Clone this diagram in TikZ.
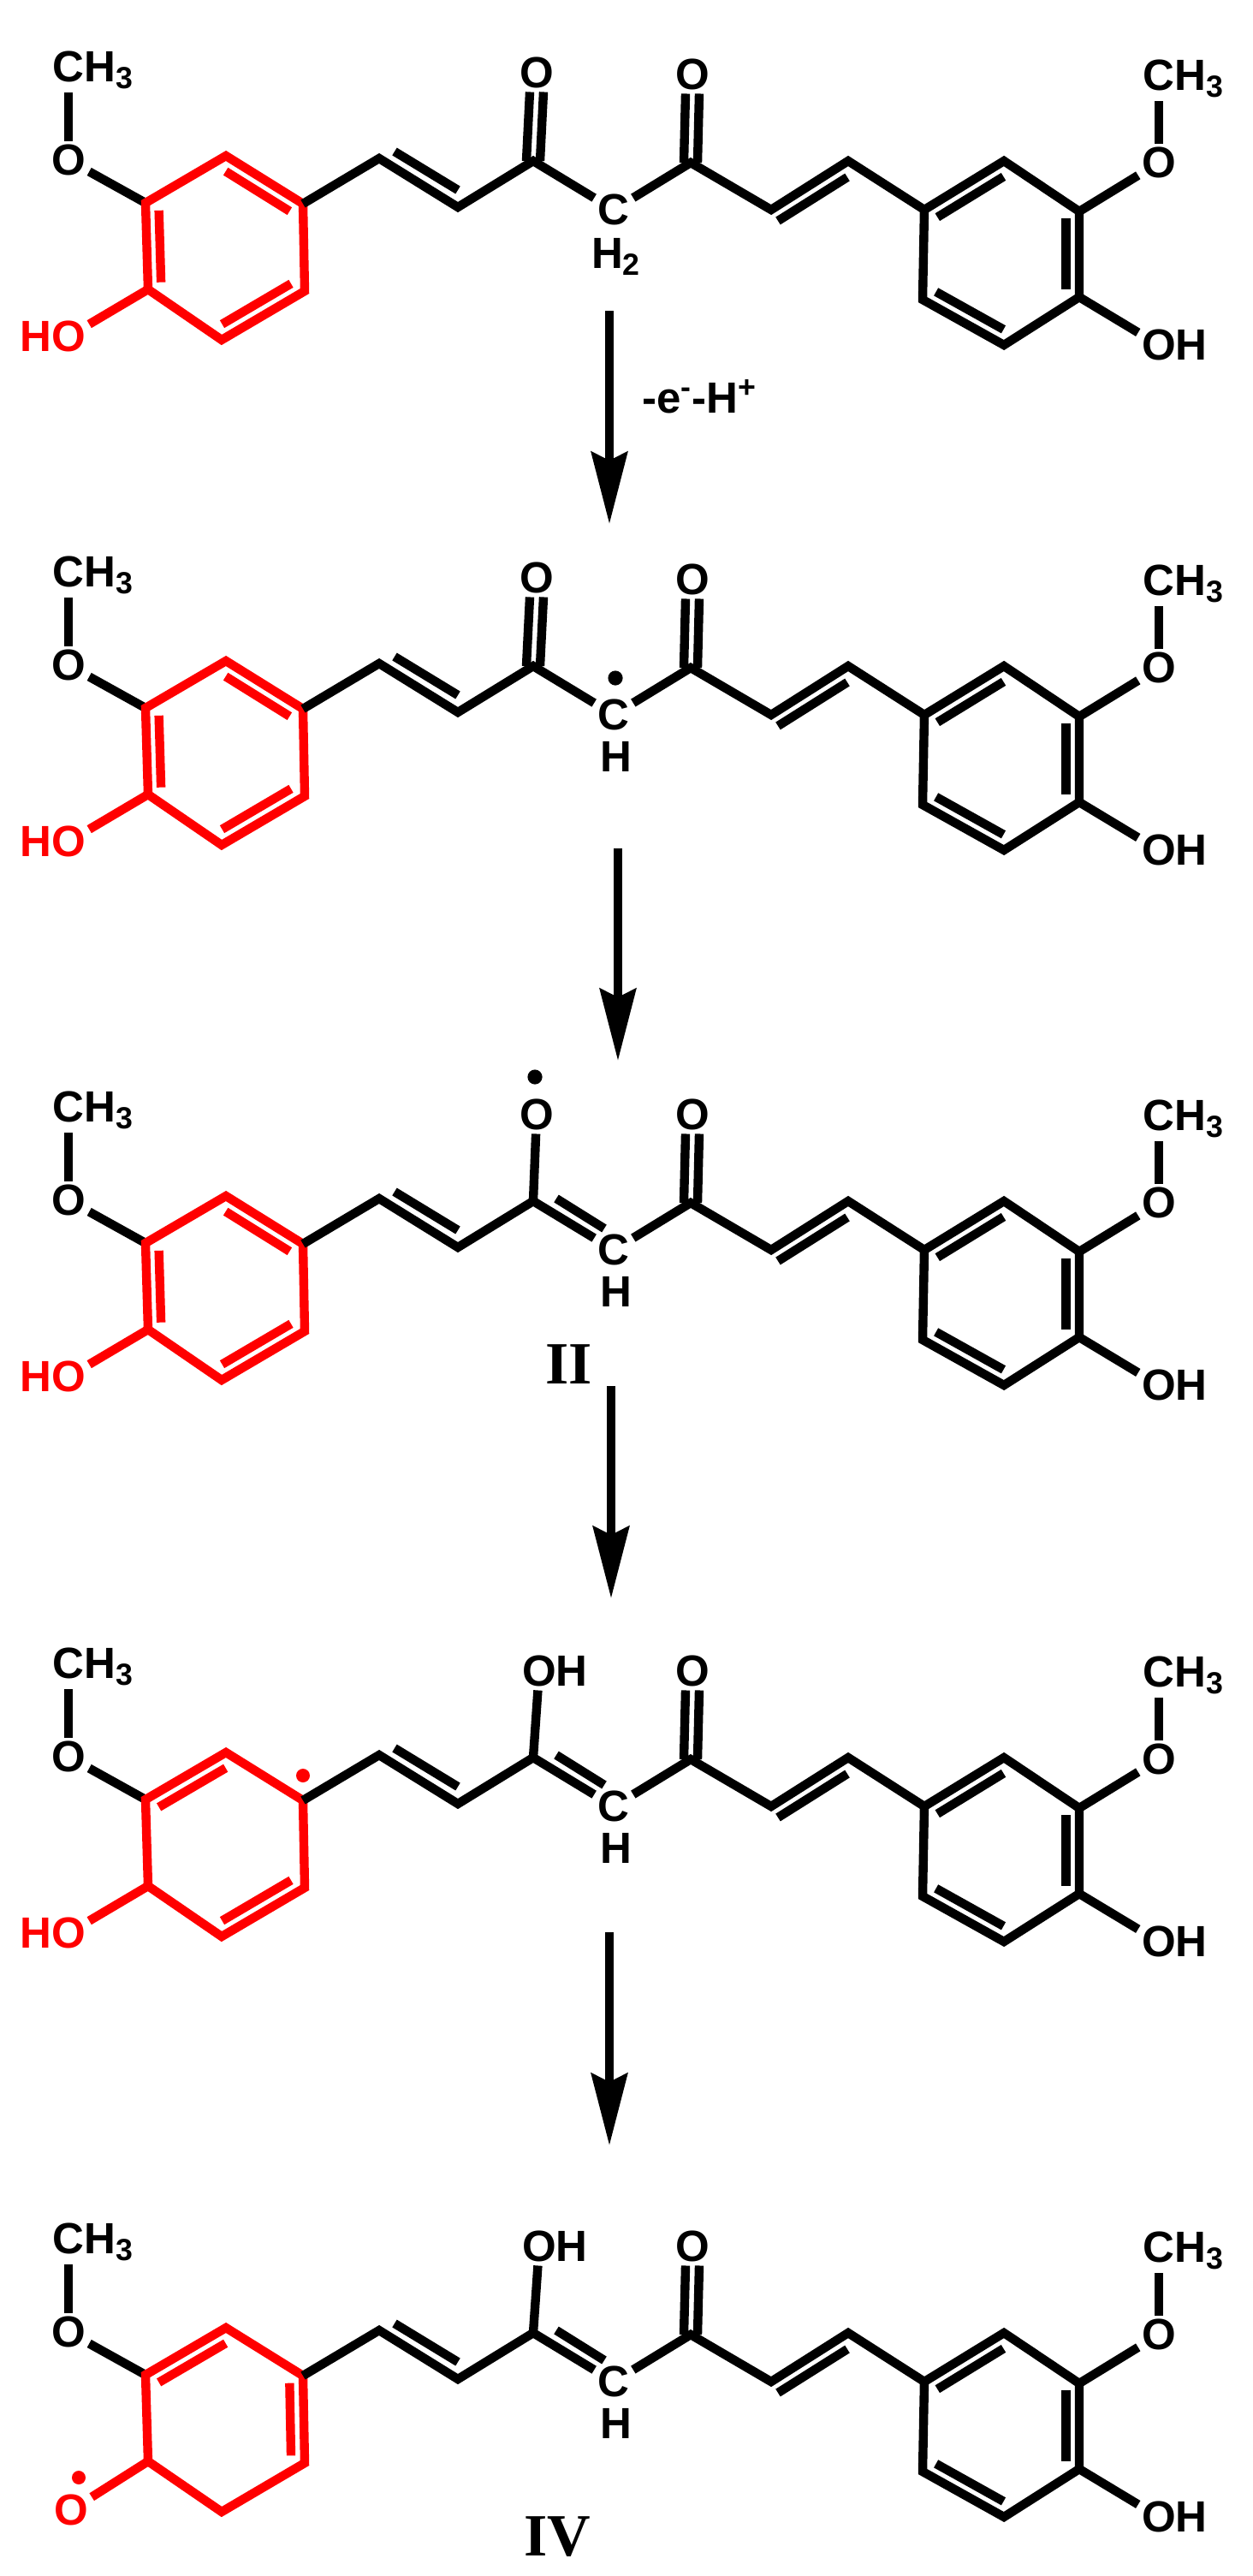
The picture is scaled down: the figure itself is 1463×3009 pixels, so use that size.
\documentclass[tikz,border=0pt]{standalone}
\usepackage{fontspec}
\setmainfont{Liberation Sans}
\newfontfamily\serifb{Liberation Serif}
\usetikzlibrary{calc,arrows.meta}
\definecolor{molred}{RGB}{255,0,0}
\tikzset{
  bond/.style={line width=5.2pt,line join=miter,line cap=butt},
  atom/.style={font=\fontsize{25.5}{28}\selectfont\bfseries,inner sep=2pt},
  rxn/.style={line width=5pt,-{Stealth[length=42pt,width=21pt,inset=5pt]}},
  roman/.style={font=\serifb\bfseries\fontsize{35}{40}\selectfont}
}
\newcommand\ringcoords{%
  \coordinate (L1) at (264,182); \coordinate (L2) at (170,237);
  \coordinate (L3) at (354,238); \coordinate (L4) at (173,338);
  \coordinate (L5) at (356,340); \coordinate (L6) at (259,397);
  \coordinate (LC) at (262,289);
  \coordinate (C1) at (443,185); \coordinate (C2) at (535,242);
  \coordinate (C3) at (623,188); \coordinate (C5) at (807,190);
  \coordinate (C6) at (901,245); \coordinate (C7) at (991,188);
  \coordinate (R1) at (1080,245); \coordinate (R2) at (1173,188);
  \coordinate (R3) at (1261,247); \coordinate (R4) at (1261,347);
  \coordinate (R5) at (1173,403); \coordinate (R6) at (1078,350);
  \coordinate (RC) at (1170,296);
}
\newcommand\common{%
  \ringcoords
  \node[atom] (oL) at (80,187) {O};
  \node[atom] (chL) at (80,82) {C\rlap{H\textsubscript{3}}};
  \draw[bond] (chL) -- (oL);
  \draw[bond] (oL) -- (L2);
  \draw[bond,molred] (L1) -- (L3) -- (L5) -- (L6) -- (L4) -- (L2) -- cycle;
  \node[atom] (c4) at (717,245) {C};
  \draw[bond] (L3) -- (C1) -- (C2) -- (C3) -- (c4);
  \draw[bond] (c4) -- (C5) -- (C6) -- (C7) -- (R1);
  \draw[bond] (461,177) -- (535,222);
  \draw[bond] (909,258) -- (990,207);
  \node[atom] (o5) at (809,87) {O};
  \draw[bond] ([xshift=-4pt]C5) -- ([xshift=-4pt]o5.south);
  \draw[bond] ([xshift=4pt]C5) -- ([xshift=4pt]o5.south);
  \draw[bond] (R1) -- (R2) -- (R3) -- (R4) -- (R5) -- (R6) -- cycle;
  \draw[bond] ($(R1)!0.17!(RC)$) -- ($(R2)!0.17!(RC)$);
  \draw[bond] ($(R3)!0.17!(RC)$) -- ($(R4)!0.17!(RC)$);
  \draw[bond] ($(R5)!0.17!(RC)$) -- ($(R6)!0.17!(RC)$);
  \node[atom] (oR) at (1354,190) {O};
  \node[atom] (chR) at (1354,92) {C\rlap{H\textsubscript{3}}};
  \draw[bond] (chR) -- (oR);
  \draw[bond] (R3) -- (oR);
  \node[atom] (ohR) at (1354,403) {O\rlap{H}};
  \draw[bond] (R4) -- (ohR);
}
\newcommand\lin[4]{\draw[bond,#4] ($(#1)!0.17!(#3)$) -- ($(#2)!0.17!(#3)$);}
\newcommand\hoL{%
  \node[atom,text=molred] (hoL) at (80,393) {\llap{H}O};
  \draw[bond,molred] (L4) -- (hoL);
}
\newcommand\ketoC{%
  \node[atom] (o3) at (627,85) {O};
  \draw[bond] ([xshift=-4pt]C3) -- ([xshift=-4pt]o3.south);
  \draw[bond] ([xshift=4pt]C3) -- ([xshift=4pt]o3.south);
}
\newcommand\enolC{%
  \node[atom] (o3) at (630,87) {O\rlap{H}};
  \draw[bond] (C3) -- (o3);
  \draw[bond] (650,185) -- (706,220);
  \node[atom] (h4) at (720,294) {H};
}
\begin{document}
\begin{tikzpicture}[x=0.5pt,y=-0.5pt]
\useasboundingbox (0,0) rectangle (1463,3009);
% molecule 1
\begin{scope}
  \common
  \lin{L1}{L3}{LC}{molred} \lin{L2}{L4}{LC}{molred} \lin{L5}{L6}{LC}{molred}
  \hoL \ketoC
  \node[atom] (h4) at (720,300) {H\textsubscript{2}};
\end{scope}
% molecule 2
\begin{scope}[yshift=-295pt]
  \common
  \lin{L1}{L3}{LC}{molred} \lin{L2}{L4}{LC}{molred} \lin{L5}{L6}{LC}{molred}
  \hoL \ketoC
  \node[atom] (h4) at (720,294) {H};
  \fill (719,202) circle[radius=4.3pt];
\end{scope}
% molecule 3
\begin{scope}[yshift=-607.5pt]
  \common
  \lin{L1}{L3}{LC}{molred} \lin{L2}{L4}{LC}{molred} \lin{L5}{L6}{LC}{molred}
  \hoL
  \node[atom] (o3) at (627,87) {O};
  \draw[bond] (C3) -- (o3);
  \fill (625,43) circle[radius=4.3pt];
  \draw[bond] (650,185) -- (706,220);
  \node[atom] (h4) at (720,294) {H};
\end{scope}
% molecule 4
\begin{scope}[yshift=-932.5pt]
  \common
  \lin{L1}{L2}{LC}{molred} \lin{L5}{L6}{LC}{molred}
  \hoL \enolC
  \fill[molred] (354,209) circle[radius=4pt];
\end{scope}
% molecule 5
\begin{scope}[yshift=-1268.5pt]
  \common
  \lin{L1}{L2}{LC}{molred} \lin{L3}{L5}{LC}{molred}
  \node[atom,text=molred] (oX) at (83,395) {O};
  \draw[bond,molred] (L4) -- (oX);
  \fill[molred] (92,357) circle[radius=4pt];
  \enolC
\end{scope}
% arrows
\coordinate (a1s) at (712,363); \coordinate (a1e) at (712,612);
\coordinate (a2s) at (722,991); \coordinate (a2e) at (722,1239);
\coordinate (a3s) at (714,1619); \coordinate (a3e) at (714,1867);
\coordinate (a4s) at (712,2257); \coordinate (a4e) at (712,2506);
\draw[rxn] (a1s) -- (a1e);
\draw[rxn] (a2s) -- (a2e);
\draw[rxn] (a3s) -- (a3e);
\draw[rxn] (a4s) -- (a4e);
\node[atom,anchor=west] (lab) at (746,463) {-e\textsuperscript{-}-H\textsuperscript{+}};
\node[roman] (II) at (665,1594) {II};
\node[roman] (IV) at (651,2963) {IV};
\end{tikzpicture}
\end{document}
